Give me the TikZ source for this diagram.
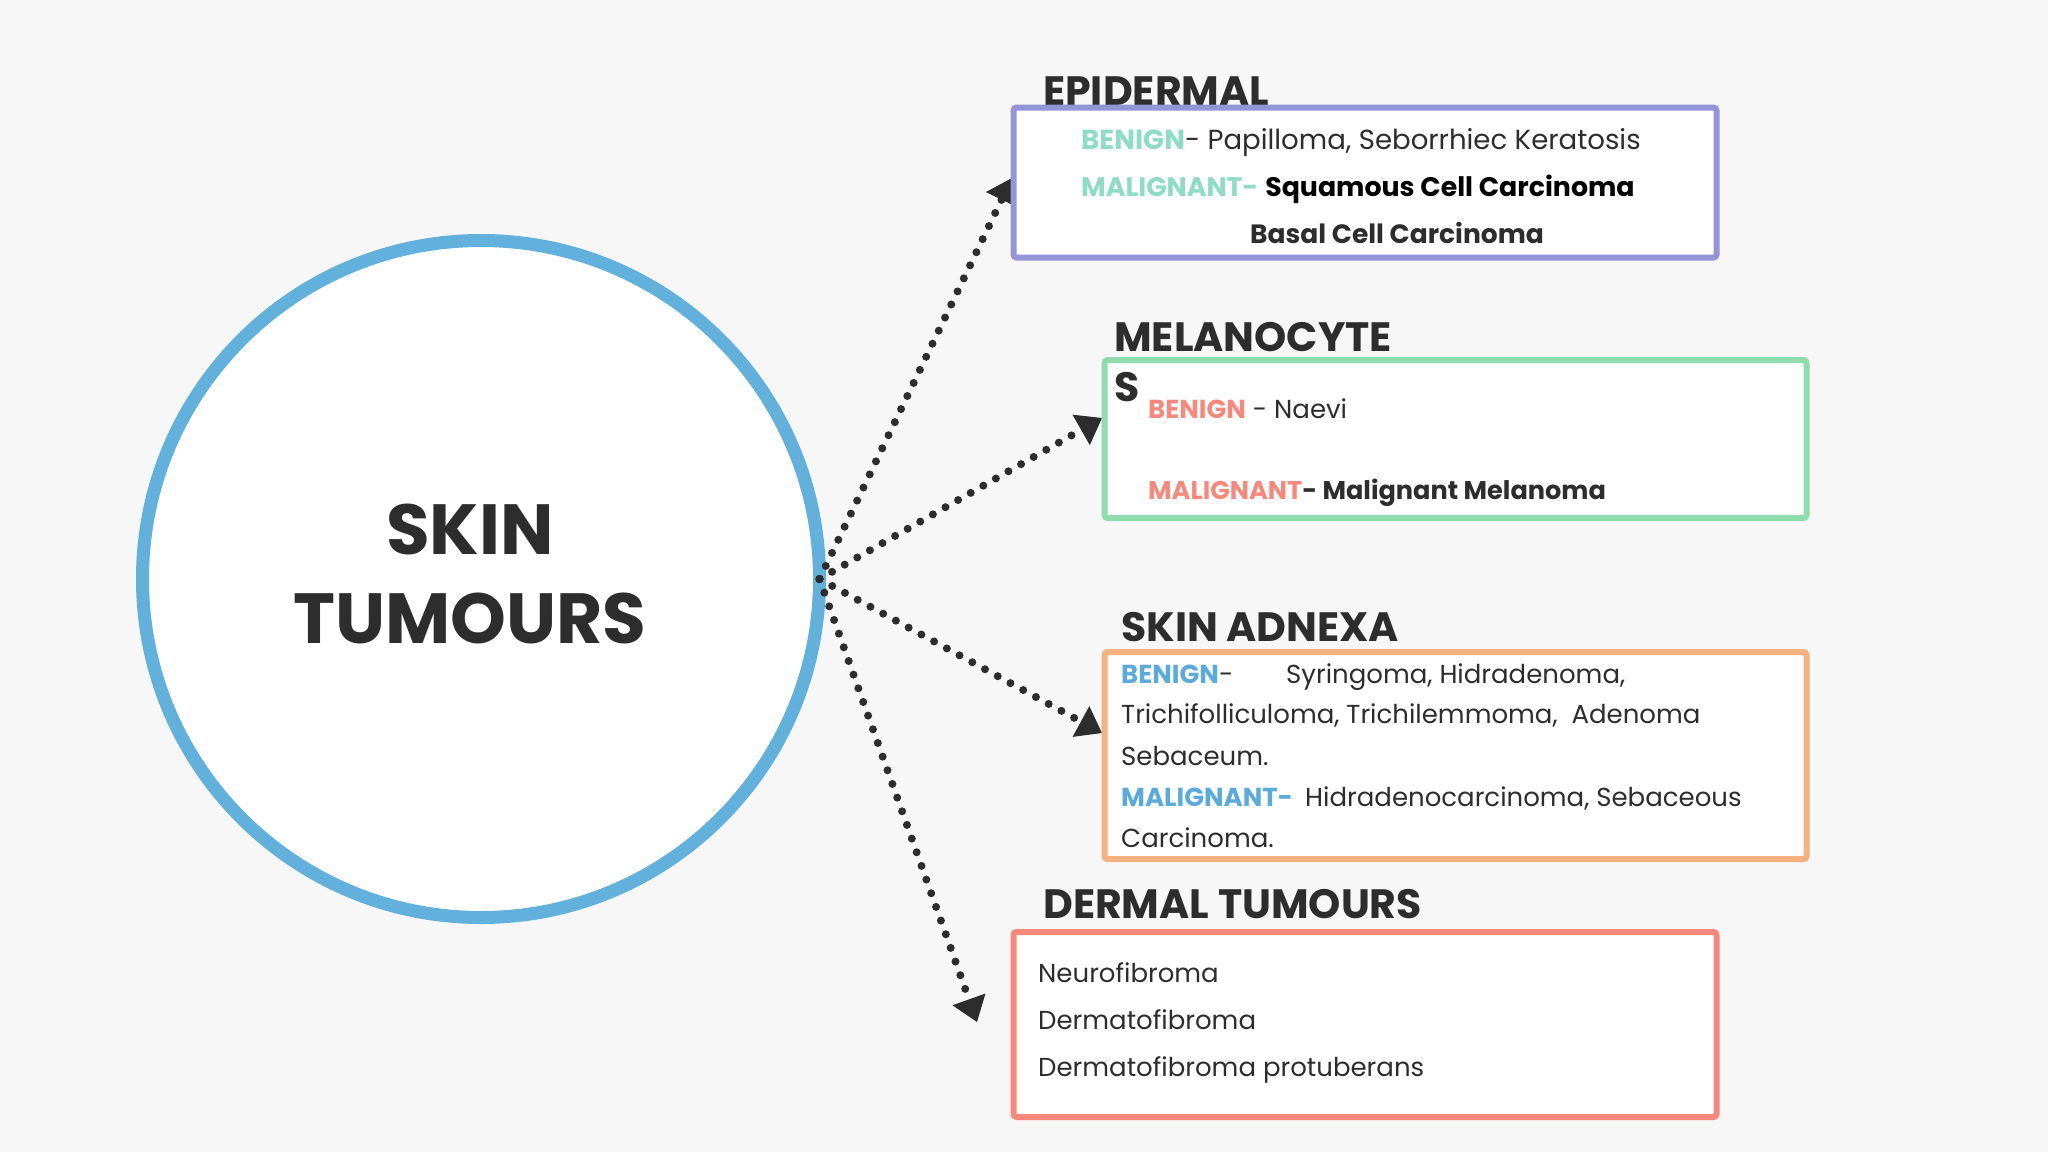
\documentclass[tikz,border=0pt]{standalone}
\usepackage{fontspec}
\setmainfont{Poppins}
\usetikzlibrary{arrows.meta}
\definecolor{bgc}{HTML}{F7F7F7}
\definecolor{circblue}{HTML}{62B0DC}
\definecolor{lav}{HTML}{9494D8}
\definecolor{boxgreen}{HTML}{8FDCAC}
\definecolor{mintt}{HTML}{8EDCC6}
\definecolor{salm}{HTML}{F8887C}
\definecolor{orng}{HTML}{F5B27E}
\definecolor{bluet}{HTML}{5AAADB}
\definecolor{dark}{HTML}{2D2D2D}
\tikzset{
  boxs/.style={draw=#1, line width=6pt, fill=white, rounded corners=3pt, inner sep=0pt, outer sep=0pt, anchor=north west},
  head/.style={anchor=base west, inner sep=0pt, text=dark, font=\fontsize{41}{41}\selectfont\bfseries},
  body/.style={anchor=base west, inner sep=0pt, text=dark, font=\fontsize{26}{26}\selectfont},
  dotarrow/.style={line width=8pt, line cap=round, dash pattern=on 0pt off 14.5pt, draw=dark,
    -{Triangle[length=24pt 0, width=35pt 0, fill=dark, line width=0pt]}},
}
\begin{document}
\begin{tikzpicture}[x=1pt,y=-1pt]
\useasboundingbox (0,0) rectangle (2048,1152);
\fill[bgc] (0,0) rectangle (2048,1152);

% central circle
\node[circle, draw=circblue, line width=13pt, fill=white, minimum size=677pt, inner sep=0pt, outer sep=0pt] (circ) at (481,579) {};
\node[anchor=base, inner sep=0pt, text=dark, font=\fontsize{71}{71}\selectfont\bfseries] (t1) at (470,554) {SKIN};
\node[anchor=base, inner sep=0pt, text=dark, font=\fontsize{71}{71}\selectfont\bfseries] (t2) at (470,643) {TUMOURS};

% connectors (drawn below the boxes)
\coordinate (e1end) at (1012,178);
\coordinate (e2end) at (1102,418);
\coordinate (e3end) at (1102,733);
\coordinate (e4end) at (977,1022);
\draw[dotarrow] (circ.east) -- (e1end);
\draw[dotarrow] (circ.east) -- (e2end);
\draw[dotarrow] (circ.east) -- (e3end);
\draw[dotarrow] (circ.east) -- (e4end);

% headings
\node[head] (h1) at (1043,105) {EPIDERMAL};
\node[head] (h2) at (1114,351) {MELANOCYTE};
\node[head] (h3) at (1121,641) {SKIN ADNEXA};
\node[head] (h4) at (1043,918) {DERMAL TUMOURS};

% boxes
\node[boxs=lav, minimum width=703pt, minimum height=150pt] (epi) at (1013.5,107.5) {};
\node[boxs=boxgreen, minimum width=702pt, minimum height=158pt] (mel) at (1104.5,360) {};
\node[boxs=orng, minimum width=702pt, minimum height=207pt] (adn) at (1104.5,652) {};
\node[boxs=salm, minimum width=703pt, minimum height=185pt] (der) at (1013.5,932) {};
\node[head] (h2b) at (1114,401) {S};

% epidermal text
\node[body, font=\fontsize{27.6}{27.6}\selectfont] (e1) at (1081,149) {\textcolor{mintt}{\bfseries BENIGN}- Papilloma, Seborrhiec Keratosis};
\node[body, font=\fontsize{26.8}{26.8}\selectfont] (e2) at (1081,196) {\textcolor{mintt}{\bfseries MALIGNANT-} \textcolor{black}{\bfseries Squamous Cell Carcinoma}};
\node[body, font=\fontsize{26.5}{26.5}\selectfont\bfseries] (e3) at (1250,243) {Basal Cell Carcinoma};

% melanocyte text
\node[body] (m1) at (1148,418) {\textcolor{salm}{\bfseries BENIGN} - Naevi};
\node[body, font=\fontsize{25.6}{25.6}\selectfont] (m2) at (1148,499) {\textcolor{salm}{\bfseries MALIGNANT}{\bfseries - Malignant Melanoma}};

% adnexa text
\node[body] (a1) at (1121,683) {\makebox[165pt][l]{\textcolor{bluet}{\bfseries BENIGN}-}Syringoma, Hidradenoma,};
\node[body] (a2) at (1121,723) {Trichifolliculoma, Trichilemmoma,\ \ Adenoma};
\node[body] (a3) at (1121,765) {Sebaceum.};
\node[body] (a4) at (1121,806) {\makebox[184pt][l]{\textcolor{bluet}{\bfseries MALIGNANT-}}Hidradenocarcinoma,\ Sebaceous};
\node[body] (a5) at (1121,847) {Carcinoma.};

% dermal text
\node[body] (d1) at (1038,982) {Neurofibroma};
\node[body] (d2) at (1038,1029) {Dermatofibroma};
\node[body] (d3) at (1038,1076) {Dermatofibroma protuberans};
\end{tikzpicture}
\end{document}
